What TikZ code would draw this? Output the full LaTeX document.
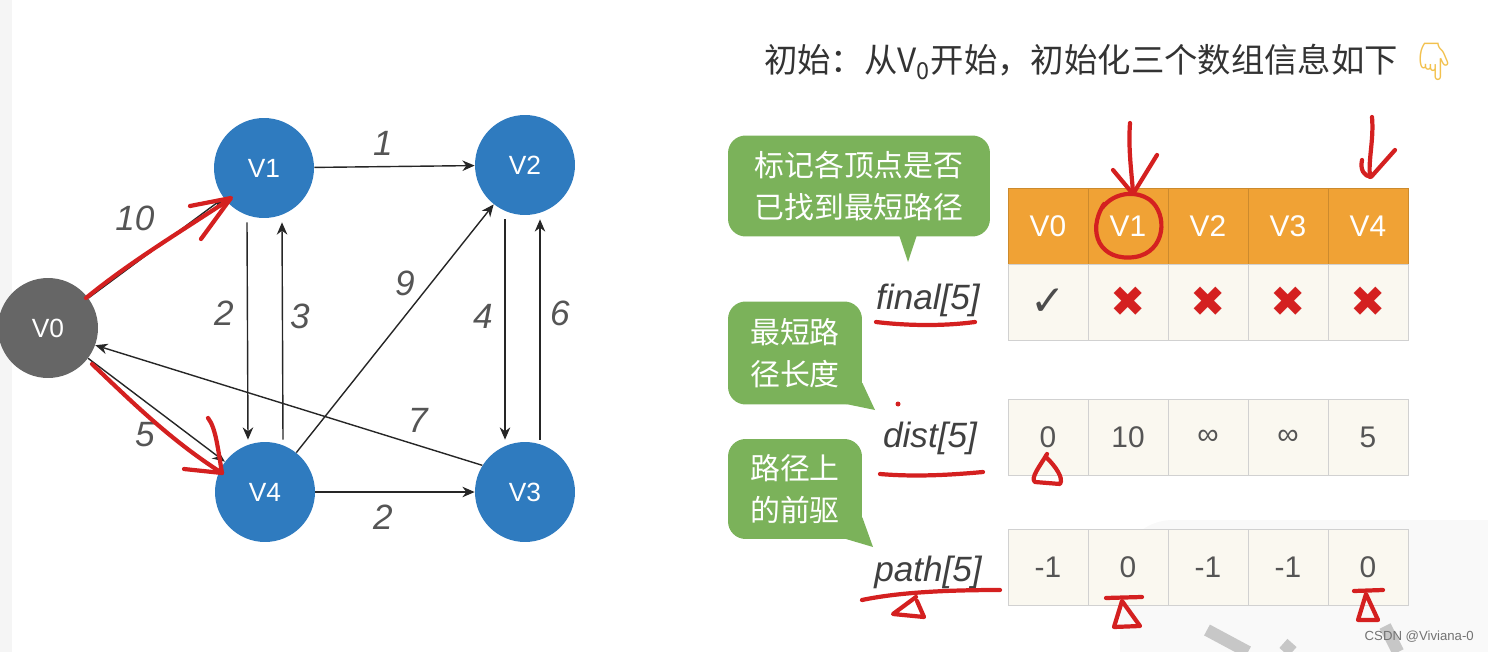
\documentclass[tikz,border=0pt]{standalone}
\usepackage{fontspec}
\setmainfont{Liberation Sans}
\newfontfamily\cjk{Noto Sans CJK SC}
\newfontfamily\emoji{Noto Emoji}
\newfontfamily\sym{DejaVu Sans}
\usetikzlibrary{arrows.meta,calc,positioning}
\definecolor{Blue}{HTML}{2F7BBF}
\definecolor{Start}{HTML}{666666}
\definecolor{Head}{HTML}{F0A235}
\definecolor{Cell}{HTML}{FAF8F0}
\definecolor{Tip}{HTML}{7BB25A}
\definecolor{Ink}{HTML}{D42020}
\definecolor{Lbl}{HTML}{555555}
\definecolor{Hand}{HTML}{F2C14E}
\newcommand\yesmark{{\sym\fontsize{24}{24}\selectfont\color{black!70}✓}}
\newcommand\nomark{{\sym\fontsize{24}{24}\selectfont\color{Ink}✖}}

\begin{document}
\begin{tikzpicture}[x=0.02cm,y=-0.02cm,
  vert/.style={circle,fill=Blue,text=white,minimum size=2cm,inner sep=0pt,font=\fontsize{15}{15}\selectfont},
  link/.style={-{Stealth[length=7pt,width=6pt]},line width=0.8pt,black!85},
  wt/.style={text=Lbl,font=\fontsize{20}{20}\selectfont\itshape},
  ink/.style={Ink,line width=2.4pt,line cap=round,line join=round},
  tcell/.style={draw=black!18,fill=Cell,minimum width=1.6cm,minimum height=1.52cm,inner sep=0pt,font=\fontsize{17}{17}\selectfont,text=Lbl},
  hcell/.style={tcell,draw=Head!85!black,fill=Head,text=white},
  bubble/.style={fill=Tip,rounded corners=10pt,text=white,align=center,font=\cjk\fontsize{17}{24}\selectfont,inner sep=0pt},
  arrname/.style={text=black!75,font=\fontsize{20}{20}\selectfont\itshape}]
  \useasboundingbox (0,0) rectangle (1488,652);
  % faint background
  \fill[black!4] (0,0) rectangle (12,652);
  \fill[black!2.5,rounded corners=30pt] (1120,652) -- (1120,520) -- (1300,520) [sharp corners] -- (1488,520) -- (1488,652) -- cycle;
  \draw[black!22,line width=7pt] (1207,630) -- (1248,652) (1284,652) -- (1292,643) (1385,626) -- (1398,652);

  % graph
  \node[vert,fill=Start] (v0) at (48,328) {V0};
  \node[vert] (v1) at (264,168) {V1};
  \node[vert] (v2) at (525,165) {V2};
  \node[vert] (v3) at (525,492) {V3};
  \node[vert] (v4) at (265,492) {V4};
  \draw[link] (v1) -- (v2);
  \draw[link] ($(v1.south)+(-17,4)$) -- ($(v4.north)+(-17,-2)$);
  \draw[link] ($(v4.north)+(18,-2)$) -- ($(v1.south)+(18,4)$);
  \draw[link] (v4) -- (v2);
  \draw[link] ($(v2.south)+(-20,4)$) -- ($(v3.north)+(-20,-2)$);
  \draw[link] ($(v3.north)+(15,-2)$) -- ($(v2.south)+(15,4)$);
  \draw[link] (v3.148) -- (v0.-20);
  \draw[link] (v4) -- (v3);
  \draw[link] (v0) -- (v1);
  \draw[link] (v0) -- (v4);
  \node[wt] (w01) at (135,218) {10};
  \node[wt] (w04) at (145,435) {5};
  \node[wt] (w12) at (383,143) {1};
  \node[wt] (w14) at (224,313) {2};
  \node[wt] (w41) at (300,316) {3};
  \node[wt] (w42) at (405,283) {9};
  \node[wt] (w23) at (483,316) {4};
  \node[wt] (w32) at (560,313) {6};
  \node[wt] (w30) at (418,420) {7};
  \node[wt] (w43) at (383,517) {2};
  \draw[ink] (86,298) .. controls (130,262) and (180,232) .. (230,199);
  \draw[ink] (190,206) -- (231,198) -- (201,239);
  \draw[ink] (92,364) .. controls (130,400) and (170,440) .. (222,473);
  \draw[ink] (208,418) .. controls (216,428) and (218,450) .. (222,473) -- (184,469);

  % arrays
  \node[anchor=west,text=black!80,font=\cjk\fontsize{19}{19}\selectfont] (title) at (758,62) {初始：从V\textsubscript{0}开始，初始化三个数组信息如下};
  \node[right=0pt of title,text=Hand,font=\emoji\fontsize{21}{21}\selectfont] (hand) {👇};
  \foreach \i in {0,...,4}
    \node[hcell] (h\i) at (1048+80*\i,226) {V\i};
  \foreach \i/\f/\d/\p in {0/\yesmark/0/-1,1/\nomark/10/0,2/\nomark/∞/-1,3/\nomark/∞/-1,4/\nomark/5/0}{
    \node[tcell] (f\i) at (1048+80*\i,302) {\f};
    \node[tcell] (d\i) at (1048+80*\i,437) {\d};
    \node[tcell] (p\i) at (1048+80*\i,567) {\p};
  }
  \node[arrname] (lf) at (928,300) {final[5]};
  \node[arrname] (ld) at (930,438) {dist[5]};
  \node[arrname] (lp) at (928,572) {path[5]};

  % speech bubbles
  \node[bubble,minimum width=5.24cm,minimum height=2.02cm] (b1) at (859,186) {标记各顶点是否\\已找到最短路径};
  \fill[Tip] ($(b1.south)+(40,-2)$) -- (908,262) -- ($(b1.south)+(58,-2)$) -- cycle;
  \node[bubble,minimum width=2.68cm,minimum height=2.06cm] (b2) at (795,353) {最短路\\径长度};
  \fill[Tip] ($(b2.south east)+(-22,-2)$) -- (875,410) -- ($(b2.south east)+(0,-22)$) -- cycle;
  \node[bubble,minimum width=2.68cm,minimum height=2cm] (b3) at (795,489) {路径上\\的前驱};
  \fill[Tip] ($(b3.south east)+(-22,-2)$) -- (873,547) -- ($(b3.south east)+(0,-22)$) -- cycle;

  % red marks on the table
  \draw[ink] (1130,123) .. controls (1128,150) and (1132,175) .. (1133,193);
  \draw[ink] (1113,170) -- (1133,194) -- (1157,155);
  \draw[ink] (1104,204) .. controls (1086,232) and (1100,262) .. (1135,257) .. controls (1166,252) and (1168,214) .. (1150,200) .. controls (1136,190) and (1114,192) .. (1102,208);
  \draw[ink] (1372,117) .. controls (1374,140) and (1368,160) .. (1370,177);
  \draw[ink] (1362,160) .. controls (1360,170) and (1364,176) .. (1371,177) -- (1395,150);
  \draw[ink] (876,322) .. controls (910,326) and (945,326) .. (975,322);
  \fill[Ink] (898,404) circle (2.5);
  \draw[ink] (880,474) .. controls (915,477) and (950,475) .. (983,472);
  \draw[ink] (862,600) .. controls (900,592) and (950,590) .. (1000,590);
  \draw[ink] (916,597) -- (893,614) -- (924,617) -- (917,601);
  \draw[ink] (1047,454) .. controls (1040,466) and (1030,478) .. (1035,482) -- (1060,484) .. controls (1064,478) and (1055,466) .. (1047,458);
  \draw[ink] (1106,598) -- (1142,597);
  \draw[ink] (1122,601) -- (1114,627) -- (1140,626) -- cycle;
  \draw[ink] (1354,591) -- (1383,590);
  \draw[ink] (1366,594) -- (1358,620) -- (1378,620) -- cycle;

  \node[anchor=east,text=black!55,font=\fontsize{7.5}{8}\selectfont] (mark) at (1480,637) {CSDN @Viviana-0};
\end{tikzpicture}
\end{document}
